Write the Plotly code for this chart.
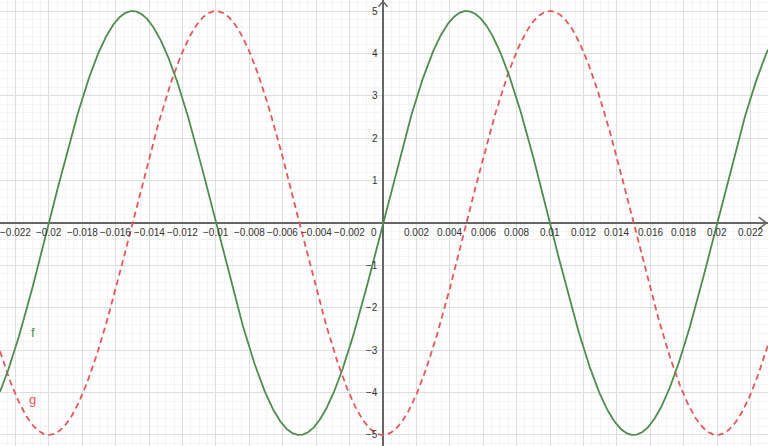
import numpy as np
import plotly.graph_objects as go

# f and g as drawn: amplitude, frequency (Hz) and time shift (s)
amplitude = 5.0
frequency = 50.0
f_shift = 0.0
g_shift = 0.005

x_range = [-0.02293, 0.02305]
y_range = [-5.26, 5.26]

x_ticks = [round(-0.022 + 0.002 * i, 3) for i in range(23)]
y_ticks = [-5, -4, -3, -2, -1, 1, 2, 3, 4, 5]

green = "rgb(80,140,80)"
red = "rgb(228,88,88)"
axis_color = "#666666"
label_color = "#333333"
font_family = "Liberation Sans, Arial, sans-serif"


def wave(t, shift):
	return amplitude * np.sin(2 * np.pi * frequency * (t - shift))


def fmt(v):
	s = f"{abs(v):.3f}".rstrip("0").rstrip(".")
	return ("\u2212" + s) if v < 0 else s


t = np.linspace(x_range[0], x_range[1], 1500)

fig = go.Figure()

fig.add_trace(go.Scatter(
	x=t, y=wave(t, g_shift), mode="lines",
	line=dict(color=red, width=1.8, dash="6px,4px"),
	hoverinfo="skip",
))
fig.add_trace(go.Scatter(
	x=t, y=wave(t, f_shift), mode="lines",
	line=dict(color=green, width=1.8),
	hoverinfo="skip",
))

annotations = []
for v in x_ticks:
	if v == 0:
		annotations.append(dict(x=0, y=0, text="0", showarrow=False,
			xanchor="right", yanchor="middle", xshift=-4, yshift=-9))
		continue
	annotations.append(dict(x=v, y=0, text=fmt(v), showarrow=False,
		xanchor="center", yanchor="middle", yshift=-9))
for v in y_ticks:
	annotations.append(dict(x=0, y=v, text=fmt(v), showarrow=False,
		xanchor="right", yanchor="middle", xshift=-3))

for a in annotations:
	a["font"] = dict(family=font_family, size=10, color=label_color)

annotations.append(dict(x=-0.02096, y=-2.59, text="f", showarrow=False,
	font=dict(family=font_family, size=13, color=green)))
annotations.append(dict(x=-0.02096, y=-4.17, text="g", showarrow=False,
	font=dict(family=font_family, size=13, color=red)))

# arrow heads at the axis ends
shapes = [
	dict(type="path", xref="paper", yref="y",
		path="M 0.988,0.14 L 0.998,0 L 0.988,-0.14",
		line=dict(color=axis_color, width=1.5)),
	dict(type="path", xref="x", yref="paper",
		path="M -0.00027,0.985 L 0,0.997 L 0.00027,0.985",
		line=dict(color=axis_color, width=1.5)),
]

fig.update_layout(
	width=768, height=446,
	margin=dict(l=0, r=0, t=0, b=0, pad=0),
	paper_bgcolor="white", plot_bgcolor="white",
	showlegend=False,
	annotations=annotations,
	shapes=shapes,
	xaxis=dict(
		range=x_range, showticklabels=False, ticks="",
		dtick=0.002, tick0=0, gridcolor="#dedede", gridwidth=1,
		minor=dict(dtick=0.0005, tick0=0, showgrid=True, gridcolor="#f3f3f3", gridwidth=1),
		zeroline=True, zerolinecolor=axis_color, zerolinewidth=1.5,
		showline=False, fixedrange=True,
	),
	yaxis=dict(
		range=y_range, showticklabels=False, ticks="",
		dtick=1, tick0=0, gridcolor="#dedede", gridwidth=1,
		minor=dict(dtick=0.2, tick0=0, showgrid=True, gridcolor="#f3f3f3", gridwidth=1),
		zeroline=True, zerolinecolor=axis_color, zerolinewidth=1.5,
		showline=False, fixedrange=True,
	),
)

fig.write_html("out.html", config=dict(displayModeBar=False),
	post_script="document.body.style.margin='0';")
